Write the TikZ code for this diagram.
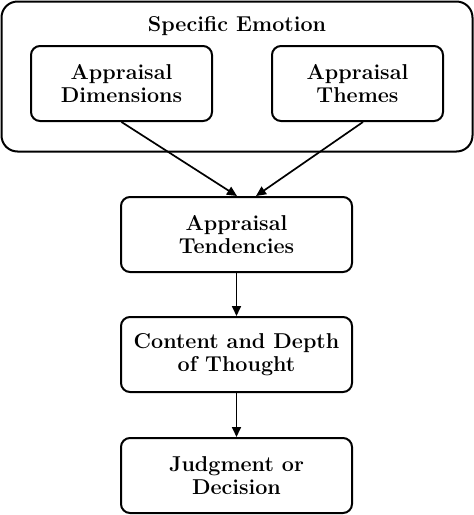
\documentclass[tikz,border=0pt]{standalone}
\usetikzlibrary{arrows.meta}
\begin{document}
\begin{tikzpicture}[x=1pt,y=-1pt,
  txt/.style={font=\fontsize{21.5}{23.5}\selectfont\bfseries,align=center},
  box/.style={txt,draw,line width=2pt,rounded corners=9pt},
  arr/.style={line width=1.7pt,-{Triangle[length=10pt,width=9pt]}}]
\useasboundingbox (0,0) rectangle (474,515);
\draw[line width=2pt,rounded corners=16pt] (1.5,1.5) rectangle (472.5,151.5);
\node[txt] (title) at (237,26) {Specific Emotion};
\node[box,minimum width=181pt,minimum height=75pt] (dim) at (121.5,83.5) {Appraisal\\Dimensions};
\node[box,minimum width=171pt,minimum height=75pt] (thm) at (357.5,83.5) {Appraisal\\Themes};
\node[box,minimum width=231pt,minimum height=75pt] (tend) at (236.5,234.5) {Appraisal\\Tendencies};
\node[box,minimum width=231pt,minimum height=75pt] (cont) at (236.5,354.5) {Content and Depth\\of Thought};
\node[box,minimum width=231pt,minimum height=75pt] (judg) at (236.5,475.5) {Judgment or\\Decision};
\coordinate (tl) at (237,196);
\coordinate (tr) at (256,196);
\draw[arr] (dim.south) -- (tl);
\draw[arr] ([xshift=5.5pt]thm.south) -- (tr);
\draw[arr] (tend.south) -- (cont.north);
\draw[arr] (cont.south) -- (judg.north);
\end{tikzpicture}
\end{document}
